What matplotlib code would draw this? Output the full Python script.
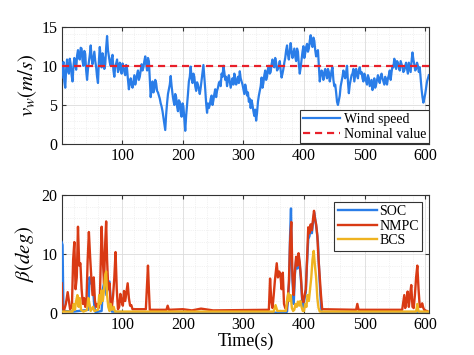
import matplotlib
matplotlib.use("Agg")
import matplotlib.pyplot as plt
import numpy as np
from matplotlib.ticker import MultipleLocator

plt.rcParams['font.family'] = ['Liberation Serif', 'DejaVu Serif']
plt.rcParams['mathtext.fontset'] = 'stix'

# ---------------- data ----------------
wind_step = 1.5  # seconds between wind samples
wind_speed = [
    8.5, 9.8, 10.5, 8.0, 7.2, 9.6, 10.8, 9.4, 9.0, 10.9, 10.2, 8.8, 8.0, 9.9, 11.0, 10.2, 9.5, 11.3, 12.0, 11.0, 10.8,
    12.3, 12.2, 10.6, 10.0, 11.9, 11.5, 9.4, 8.2, 9.6, 10.5, 11.4, 12.6, 11.0, 10.2, 11.0, 11.8, 10.6, 9.8, 8.6, 7.8,
    10.6, 12.4, 10.8, 9.8, 11.6, 11.0, 9.6, 10.2, 12.3, 13.8, 12.0, 11.2, 10.4, 10.0, 10.9, 11.4, 9.4, 8.6, 9.9, 10.3,
    10.8, 9.2, 9.6, 10.4, 9.6, 9.0, 10.3, 9.8, 9.2, 8.8, 10.1, 9.6, 8.2, 7.0, 7.8, 8.4, 7.6, 7.2, 8.0, 8.8,
    7.6, 8.2, 8.9, 9.4, 8.2, 8.6, 9.4, 10.2, 9.4, 9.8, 10.6, 11.2, 10.2, 9.4, 11.0, 10.6, 8.2, 6.0, 7.2, 8.0,
    6.6, 7.0, 8.2, 7.8, 6.8, 6.6, 6.2, 5.8, 5.2, 4.8, 4.2, 3.4, 2.6, 1.8, 3.8, 5.2, 6.4, 7.0, 7.6, 8.7,
    7.4, 6.4, 5.6, 5.0, 6.4, 6.0, 4.8, 4.2, 5.6, 5.4, 4.0, 3.5, 5.2, 4.8, 3.2, 1.7, 3.6, 5.0, 6.4, 8.0,
    8.6, 9.9, 8.4, 7.8, 9.0, 8.6, 7.4, 6.8, 7.9, 7.6, 7.0, 6.4, 7.2, 8.2, 9.2, 10.1, 8.6, 7.0, 5.2, 4.0,
    5.2, 4.6, 5.0, 5.8, 6.2, 5.0, 5.6, 6.4, 7.0, 6.0, 6.8, 7.2, 7.8, 8.0, 7.4, 9.0, 8.6, 10.0, 9.2, 8.2,
    8.6, 7.4, 8.2, 8.8, 8.0, 7.2, 7.8, 8.4, 7.6, 9.0, 8.4, 7.6, 8.0, 8.6, 7.8, 9.3, 8.4, 8.0, 7.6, 7.0,
    6.4, 7.6, 7.0, 6.2, 6.6, 5.4, 5.8, 4.6, 5.6, 5.0, 4.2, 3.6, 4.4, 3.0, 4.0, 5.4, 6.2, 6.8, 7.4, 8.5,
    7.2, 7.8, 8.8, 9.4, 8.2, 8.6, 9.6, 10.0, 9.0, 9.2, 10.2, 10.8, 10.0, 9.8, 11.0, 10.4, 9.4, 9.6, 10.0, 10.6,
    9.4, 8.5, 9.0, 9.6, 10.4, 11.0, 12.0, 12.6, 11.4, 10.8, 11.8, 12.9, 11.8, 11.0, 11.6, 12.2, 11.2, 10.6, 12.2, 11.8,
    10.2, 9.0, 9.8, 10.8, 11.8, 12.5, 11.0, 11.6, 12.4, 12.8, 11.8, 12.2, 13.2, 13.9, 12.8, 12.4, 13.6, 13.2, 12.0, 11.2,
    11.8, 12.0, 10.0, 8.0, 8.8, 9.4, 9.0, 8.2, 9.2, 9.6, 8.8, 8.4, 9.6, 9.2, 8.0, 8.6, 9.4, 9.8, 8.2, 7.4,
    7.6, 6.6, 5.4, 5.0, 5.6, 6.2, 7.4, 8.0, 8.6, 9.4, 8.8, 8.4, 9.2, 10.0, 8.0, 6.5, 7.6, 8.2, 8.8, 9.0,
    9.6, 8.0, 8.8, 9.6, 8.8, 8.4, 9.4, 9.8, 9.0, 9.2, 8.4, 8.0, 9.0, 8.6, 8.0, 7.6, 8.8, 8.4, 7.4, 7.8,
    8.2, 6.9, 7.6, 8.4, 7.2, 7.6, 8.2, 8.8, 8.2, 7.8, 8.6, 9.0, 8.4, 8.0, 7.6, 8.6, 8.0, 7.6, 8.4, 8.8,
    9.4, 8.2, 9.2, 10.0, 9.8, 10.9, 10.2, 9.6, 10.6, 10.4, 9.8, 9.4, 10.6, 10.2, 9.8, 9.2, 9.4, 10.0, 10.4, 9.6,
    9.0, 10.4, 9.8, 9.2, 10.6, 11.7, 10.8, 10.2, 9.4, 9.6, 10.4, 10.0, 9.2, 9.8, 8.4, 7.0, 6.0, 5.3, 5.8, 6.4,
    7.2, 8.0, 8.4, 8.8,
]
nominal_value = 10.0

soc_t = [0, 1.5, 3, 20, 44, 46, 48, 50, 52, 54, 56, 66, 68, 70, 72, 74, 77, 79, 81, 83,
         100, 370, 372, 374, 375.5, 377, 378.5, 380, 381.5, 383, 385, 387, 389, 391,
         393, 395, 397, 399, 401, 403, 405, 407, 409, 411, 413, 415, 417, 419, 421,
         423, 425, 427, 429, 607]
soc_beta = [12.0, 11.5, 0.3, 0.2, 0.5, 6.0, 5.0, 5.5, 4.0, 1.0, 0.1, 0.3, 4.0, 5.0, 4.5,
            3.0, 5.2, 5.3, 2.0, 0.2, 0.1, 0.0, 0.2, 3.0, 5.5, 13.0, 17.7, 8.0, 4.5, 1.5,
            6.5, 9.0, 7.5, 9.6, 8.0, 5.5, 2.0, 1.0, 2.5, 3.5, 8.5, 12.5, 13.0, 14.5, 13.5,
            15.5, 17.0, 15.5, 14.0, 12.0, 7.0, 3.0, 0.1, 0.1]

nmpc_t = [0, 1.5, 4, 7, 10, 12, 14, 17, 19, 21, 23, 25, 27, 29, 31, 33, 35, 37, 39, 41,
          43, 45, 47, 49, 51, 53, 55, 57, 59, 61, 63, 66, 68, 70, 72, 73.5, 75, 77, 79,
          81, 83, 85, 87, 89, 91, 93, 95, 97, 99, 101, 103, 105, 107, 109, 111, 113,
          115, 117, 139, 141, 142.5, 144, 145.5, 173, 175, 177, 200, 215, 230, 250,
          342, 344, 346, 348, 350, 352, 355, 357, 359, 361, 363, 365, 367, 369, 371,
          373, 375, 377, 379, 381, 383, 385, 387, 389, 391, 393, 395, 397, 399, 401,
          403, 405, 407, 409, 411, 413, 415, 416.5, 418, 420, 422, 424, 426, 428, 430,
          486, 488, 490, 562, 564, 565.5, 567, 569, 571, 573, 575, 577, 579, 581, 583,
          585, 587, 589, 591, 593, 595, 597, 599, 603]
nmpc_beta = [5.0, 1.0, 0.4, 1.5, 3.5, 2.0, 0.6, 1.0, 9.0, 12.0, 4.0, 6.0, 14.6, 8.0, 8.4,
             4.0, 1.5, 2.5, 1.0, 2.0, 9.0, 13.7, 9.5, 6.0, 3.0, 6.0, 2.0, 1.0, 1.5, 0.8,
             2.0, 14.6, 9.0, 5.0, 12.0, 15.5, 9.0, 4.0, 5.0, 1.5, 1.0, 3.0, 6.0, 10.3,
             4.0, 0.6, 1.0, 3.2, 2.0, 1.2, 3.7, 2.0, 3.5, 5.0, 2.5, 1.2, 1.3, 0.6, 0.6,
             5.0, 8.0, 4.0, 0.5, 0.5, 1.2, 0.5, 0.6, 0.4, 0.7, 0.4,
             0.5, 5.8, 2.0, 0.8, 3.0, 5.5, 8.4, 6.0, 7.0, 6.5, 4.0, 6.8, 1.5, 0.8, 0.5,
             2.0, 5.0, 12.0, 15.4, 6.0, 3.0, 7.0, 9.5, 8.0, 10.1, 8.5, 6.0, 2.5, 1.8, 3.0,
             4.0, 9.0, 14.5, 13.5, 15.0, 14.0, 16.0, 17.3, 16.0, 15.0, 13.0, 9.0, 6.0,
             3.0, 0.6, 0.5, 1.5, 0.5, 0.5, 2.0, 3.0, 0.8, 2.0, 3.6, 1.0, 3.0, 4.7, 1.0,
             0.8, 3.0, 6.0, 8.0, 4.0, 1.0, 1.0, 1.6, 0.8, 0.4, 0.3]

bcs_t = [0, 18, 20, 22, 24, 26, 28, 30, 32, 36, 42, 44, 46, 48, 52, 54, 60, 62, 64, 66,
         68, 70, 72, 73.5, 75, 77, 79, 81, 83, 86, 88, 350, 353, 356, 370, 372, 374,
         376, 378, 380, 382, 384, 386, 388, 390, 392, 394, 396, 398, 400, 402, 404,
         406, 408, 410, 412, 414, 416, 418, 420, 422, 424, 426, 585, 587, 589, 607]
bcs_beta = [0.2, 0.2, 1.5, 0.5, 2.0, 3.0, 1.0, 2.5, 0.5, 0.2, 0.5, 2.5, 1.5, 0.3, 1.0,
            0.3, 0.5, 3.0, 1.5, 3.8, 2.0, 4.0, 6.5, 7.0, 3.0, 1.0, 0.3, 1.5, 0.5, 1.0,
            0.2, 0.2, 1.3, 0.3, 0.3, 2.0, 3.3, 2.0, 3.0, 0.8, 0.3, 0.5, 1.5, 1.0, 1.9,
            1.2, 2.0, 1.0, 0.3, 0.3, 1.5, 1.0, 3.0, 2.0, 4.0, 6.0, 9.0, 10.5, 8.0, 6.0,
            2.5, 0.8, 0.2, 0.2, 1.5, 0.2, 0.2]

# ---------------- styling ----------------
c_blue = '#2a7de8'
c_red = '#d93a14'
c_yellow = '#efb320'
c_nom = '#e8202a'

fig = plt.figure(figsize=(4.74, 3.55), dpi=100)
ax1 = fig.add_axes([0.130, 0.594, 0.776, 0.331])
ax2 = fig.add_axes([0.130, 0.119, 0.776, 0.332])

t_wind = np.arange(len(wind_speed)) * wind_step
ax1.plot(t_wind, wind_speed, color=c_blue, lw=1.6, label='Wind speed', zorder=3)
ax1.axhline(nominal_value, color=c_nom, lw=1.6, ls=(0, (3.2, 2.2)), label='Nominal value', zorder=4)
ax1.set_ylim(0, 15)
ax1.set_yticks([0, 5, 10, 15])
ax1.yaxis.set_minor_locator(MultipleLocator(1))
ax1.set_ylabel(r'$v_w(m/s)$', fontsize=15, labelpad=2)
leg1 = ax1.legend(loc='lower right', fontsize=10, frameon=True, fancybox=False,
                  edgecolor='#333333', framealpha=1, borderpad=0.2, labelspacing=0.1,
                  handlelength=2.7, handletextpad=0.25, borderaxespad=0.05)
leg1.get_frame().set_linewidth(0.8)

ax2.plot(soc_t, soc_beta, color=c_blue, lw=1.7, label='SOC', zorder=3)
ax2.plot(nmpc_t, nmpc_beta, color=c_red, lw=1.7, label='NMPC', zorder=4)
ax2.plot(bcs_t, bcs_beta, color=c_yellow, lw=1.7, label='BCS', zorder=5)
ax2.set_ylim(0, 20)
ax2.set_yticks([0, 10, 20])
ax2.yaxis.set_minor_locator(MultipleLocator(2))
ax2.set_ylabel(r'$\beta(deg)$', fontsize=15, labelpad=4)
ax2.set_xlabel('Time(s)', fontsize=13, labelpad=0)
leg2 = ax2.legend(loc='upper right', fontsize=10, frameon=True, fancybox=False,
                  edgecolor='#333333', framealpha=1, borderpad=0.25, labelspacing=0.1,
                  handlelength=2.8, handletextpad=0.2, borderaxespad=0.5)
leg2.get_frame().set_linewidth(0.8)

for ax in (ax1, ax2):
    ax.set_xlim(0, 607)
    ax.set_xticks([100, 200, 300, 400, 500, 600])
    ax.xaxis.set_minor_locator(MultipleLocator(20))
    ax.grid(which='major', color='#dcdcdc', lw=0.6, ls='-', zorder=0)
    ax.grid(which='minor', color='#e6e6e6', lw=0.5, ls=':', zorder=0)
    ax.set_axisbelow(True)
    ax.tick_params(which='both', direction='in', top=True, right=True,
                   labelsize=11.5, color='#333333', pad=3)
    ax.tick_params(which='minor', length=0)
    ax.tick_params(which='major', length=3)
    for s in ax.spines.values():
        s.set_color('#333333')
        s.set_linewidth(0.8)

fig.savefig('out.png', dpi=100)
